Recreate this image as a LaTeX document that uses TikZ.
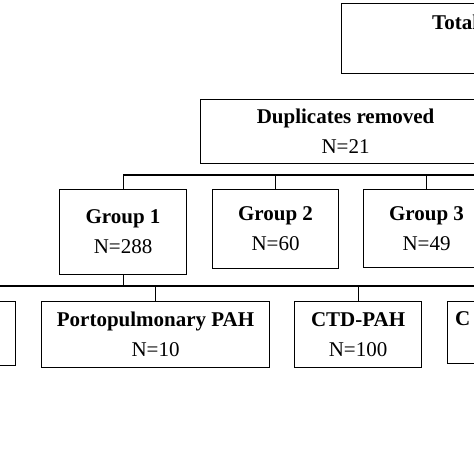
\documentclass[tikz,border=0pt]{standalone}
\usepackage{fontspec}
\setmainfont{Liberation Serif}
\begin{document}
\begin{tikzpicture}[x=1pt,y=-1pt,
  box/.style={draw, line width=1.1pt, inner sep=0pt, align=center, anchor=north west, font=\fontsize{21}{30}\selectfont},
  lbl/.style={inner sep=0pt, anchor=base west, font=\fontsize{21}{30}\selectfont\bfseries},
  link/.style={line width=1.1pt}]
\useasboundingbox (0,0) rectangle (474,474);
\clip (0,0) rectangle (474,474);
% boxes
\node[box, minimum width=220, minimum height=70] (total) at (341,3) {};
\node[lbl] (totaltxt) at (432,29) {Total};
\node[box, minimum width=290, minimum height=64] (dup) at (200,99) {\textbf{Duplicates removed}\\N=21};
\node[box, minimum width=127, minimum height=85] (g1) at (59,189) {\textbf{Group 1}\\N=288};
\node[box, minimum width=126, minimum height=79] (g2) at (212,189) {\textbf{Group 2}\\N=60};
\node[box, minimum width=126, minimum height=78] (g3) at (363,189) {\textbf{Group 3}\\N=49};
\node[box, minimum width=128, minimum height=64] (lb) at (-113,301) {};
\node[box, minimum width=228, minimum height=66] (pp) at (41,301) {\textbf{Portopulmonary PAH}\\N=10};
\node[box, minimum width=127, minimum height=66] (ctd) at (294,301) {\textbf{CTD-PAH}\\N=100};
\node[box, minimum width=150, minimum height=62] (rb) at (447,301) {};
\node[lbl] (rbtxt) at (455,325) {C};
% connectors
\coordinate (bus1r) at (474,175);
\coordinate (bus2l) at (0,286);
\coordinate (bus2r) at (474,286);
\draw[link] (g1.north) |- (bus1r);
\draw[link] (g2.north) -- (g2.north |- bus1r);
\draw[link] (g3.north) -- (g3.north |- bus1r);
\draw[link] (g1.south) -- (g1.south |- bus2l);
\draw[link] (bus2l) -- (bus2r);
\draw[link] (pp.north) -- (pp.north |- bus2l);
\draw[link] (ctd.north) -- (ctd.north |- bus2l);
\end{tikzpicture}
\end{document}
